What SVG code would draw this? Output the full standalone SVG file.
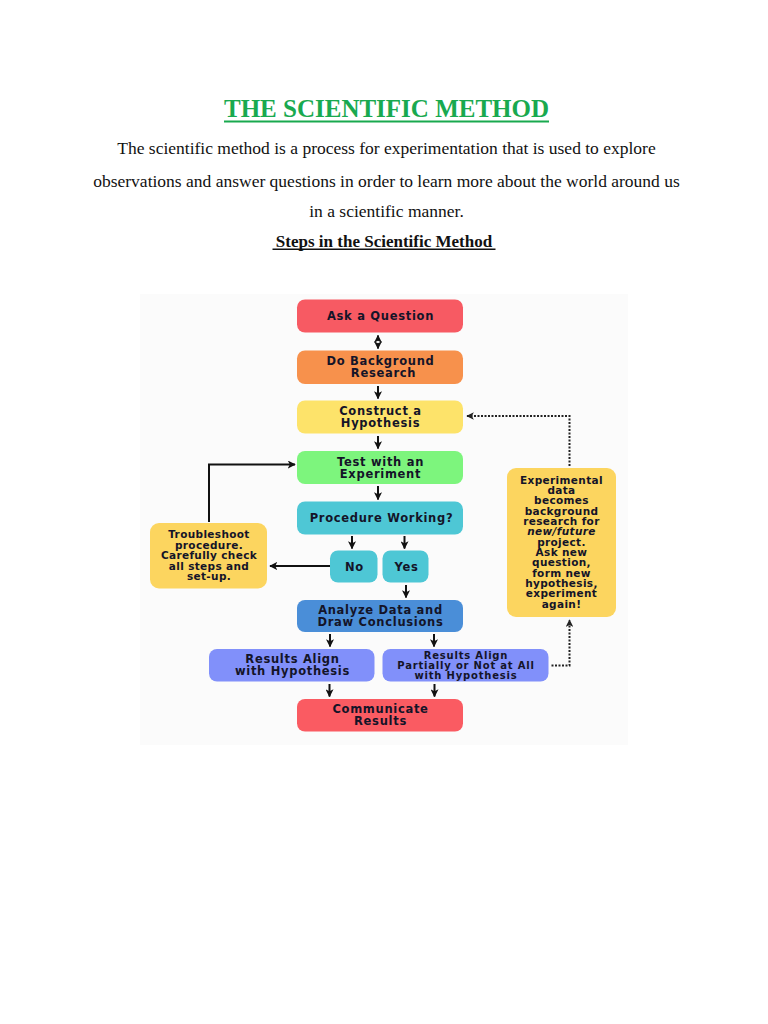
<svg xmlns="http://www.w3.org/2000/svg" width="768" height="1024" viewBox="0 0 768 1024">
<defs>
<marker id="ah" viewBox="0 0 10 10" refX="9" refY="5" markerWidth="4" markerHeight="4" orient="auto-start-reverse" markerUnits="strokeWidth">
<path d="M0,0 L10,5 L0,10 L2.5,5 Z" fill="#111"/>
</marker>
<marker id="ahd" viewBox="0 0 10 10" refX="9" refY="5" markerWidth="3.8" markerHeight="3.8" orient="auto" markerUnits="strokeWidth">
<path d="M0,0 L10,5 L0,10 L2.5,5 Z" fill="#222"/>
</marker>
</defs>
<style>
.hdr{font-family:"Liberation Serif","Times New Roman",serif;fill:#111;}
.t{font-family:"DejaVu Sans",Verdana,sans-serif;font-weight:bold;font-size:11.5px;letter-spacing:0.7px;fill:#141428;text-anchor:middle;}
.tp{font-family:"DejaVu Sans",Verdana,sans-serif;font-weight:bold;font-size:10px;letter-spacing:0.8px;fill:#141428;text-anchor:middle;}
.ts{font-family:"DejaVu Sans",Verdana,sans-serif;font-weight:bold;font-size:10.5px;letter-spacing:0.35px;fill:#141428;text-anchor:middle;}
.c{stroke:#111;stroke-width:2;fill:none;marker-end:url(#ah);}
.d{stroke:#222;stroke-width:2;fill:none;stroke-dasharray:2 1.5;}
</style>
<rect width="768" height="1024" fill="#ffffff"/>
<g id="header">
<text class="hdr" x="386.5" y="117" text-anchor="middle" font-size="25" font-weight="bold" style="fill:#19a94f">THE SCIENTIFIC METHOD</text>
<rect x="224" y="120.5" width="325" height="2" fill="#19a94f"/>
<text class="hdr" x="386.5" y="154" text-anchor="middle" font-size="17.5">The scientific method is a process for experimentation that is used to explore</text>
<text class="hdr" x="386.5" y="187" text-anchor="middle" font-size="17.5">observations and answer questions in order to learn more about the world around us</text>
<text class="hdr" x="386.5" y="217" text-anchor="middle" font-size="17.5">in a scientific manner.</text>
<text class="hdr" x="384" y="246.5" text-anchor="middle" font-size="17" font-weight="bold">Steps in the Scientific Method</text>
<rect x="272.5" y="248.5" width="223" height="1.5" fill="#111"/>
</g>
<rect x="140" y="294" width="488" height="451" fill="#fbfbfb"/>
<g id="connectors">
<line x1="378" y1="340" x2="378" y2="335.5" class="c"/>
<line x1="378" y1="344" x2="378" y2="348.5" class="c"/>
<line x1="378" y1="386" x2="378" y2="398.5" class="c"/>
<line x1="378" y1="436" x2="378" y2="448.5" class="c"/>
<line x1="378" y1="486" x2="378" y2="499.5" class="c"/>
<line x1="352" y1="536" x2="352" y2="548.5" class="c"/>
<line x1="404.5" y1="536" x2="404.5" y2="548.5" class="c"/>
<line x1="330" y1="566" x2="270" y2="566" class="c"/>
<polyline points="209,522 209,464.5 295,464.5" class="c"/>
<line x1="406" y1="585" x2="406" y2="597.5" class="c"/>
<line x1="330" y1="634" x2="330" y2="646.5" class="c"/>
<line x1="434" y1="634" x2="434" y2="646.5" class="c"/>
<line x1="329.5" y1="684" x2="329.5" y2="696.5" class="c"/>
<line x1="434.5" y1="684" x2="434.5" y2="696.5" class="c"/>
<polyline points="569.5,466 569.5,416 467,416" class="d" marker-end="url(#ahd)"/>
<polyline points="551.5,665.5 569.5,665.5 569.5,620" class="d" marker-end="url(#ahd)"/>
</g>
<g id="ask">
<rect x="297" y="299.5" width="166" height="33" rx="8" fill="#f75a63"/>
<text class="t" x="380.5" y="320">Ask a Question</text>
</g>
<g id="background">
<rect x="297" y="350.5" width="166" height="33.5" rx="8" fill="#f7914c"/>
<text class="t" x="380.5" y="365.2">Do Background</text>
<text class="t" x="383.5" y="377.2">Research</text>
</g>
<g id="hypothesis">
<rect x="297" y="400.5" width="166" height="33" rx="8" fill="#fde36a"/>
<text class="t" x="380.5" y="415">Construct a</text>
<text class="t" x="380.5" y="427">Hypothesis</text>
</g>
<g id="experiment">
<rect x="297" y="451" width="166" height="33" rx="8" fill="#7df57d"/>
<text class="t" x="380.5" y="465.5">Test with an</text>
<text class="t" x="380.5" y="477.5">Experiment</text>
</g>
<g id="procedure">
<rect x="297" y="501.5" width="166" height="33" rx="8" fill="#4ec7d5"/>
<text class="t" x="381.5" y="522">Procedure Working?</text>
</g>
<g id="no">
<rect x="330" y="550.5" width="47.5" height="32" rx="8" fill="#4ec7d5"/>
<text class="t" x="354.5" y="570.5">No</text>
</g>
<g id="yes">
<rect x="382.5" y="550.5" width="46" height="32" rx="8" fill="#4ec7d5"/>
<text class="t" x="406.5" y="570.5">Yes</text>
</g>
<g id="troubleshoot">
<rect x="150" y="523" width="117" height="65.5" rx="9" fill="#fcd55f"/>
<text class="ts" x="209" y="538">Troubleshoot</text>
<text class="ts" x="209" y="548.5">procedure.</text>
<text class="ts" x="209" y="559">Carefully check</text>
<text class="ts" x="209" y="569.5">all steps and</text>
<text class="ts" x="209" y="580">set-up.</text>
</g>
<g id="newproject">
<rect x="507" y="468" width="109" height="149" rx="9" fill="#fcd55f"/>
<text class="ts" x="561.5" y="483.5">Experimental</text>
<text class="ts" x="561.5" y="494">data</text>
<text class="ts" x="561.5" y="504">becomes</text>
<text class="ts" x="561.5" y="514.5">background</text>
<text class="ts" x="561.5" y="525">research for</text>
<text class="ts" x="561.5" y="535"><tspan font-style="italic">new/future</tspan></text>
<text class="ts" x="561.5" y="545.5">project.</text>
<text class="ts" x="561.5" y="556">Ask new</text>
<text class="ts" x="561.5" y="566">question,</text>
<text class="ts" x="561.5" y="576.5">form new</text>
<text class="ts" x="561.5" y="587">hypothesis,</text>
<text class="ts" x="561.5" y="597">experiment</text>
<text class="ts" x="561.5" y="607.5">again!</text>
</g>
<g id="analyze">
<rect x="297" y="600" width="166" height="32" rx="8" fill="#4a8ed8"/>
<text class="t" x="380.5" y="614">Analyze Data and</text>
<text class="t" x="380.5" y="626">Draw Conclusions</text>
</g>
<g id="align">
<rect x="209" y="649" width="165.5" height="32.5" rx="8" fill="#8190fa"/>
<text class="t" x="292.5" y="663.2">Results Align</text>
<text class="t" x="292.5" y="675.2">with Hypothesis</text>
</g>
<g id="partial">
<rect x="382.5" y="649" width="166" height="32.5" rx="8" fill="#8190fa"/>
<text class="tp" x="466" y="658.9">Results Align</text>
<text class="tp" x="466" y="668.9">Partially or Not at All</text>
<text class="tp" x="466" y="678.9">with Hypothesis</text>
</g>
<g id="communicate">
<rect x="297" y="699" width="166" height="32.5" rx="8" fill="#fa5b62"/>
<text class="t" x="380.5" y="713.2">Communicate</text>
<text class="t" x="380.5" y="725.2">Results</text>
</g>
</svg>
